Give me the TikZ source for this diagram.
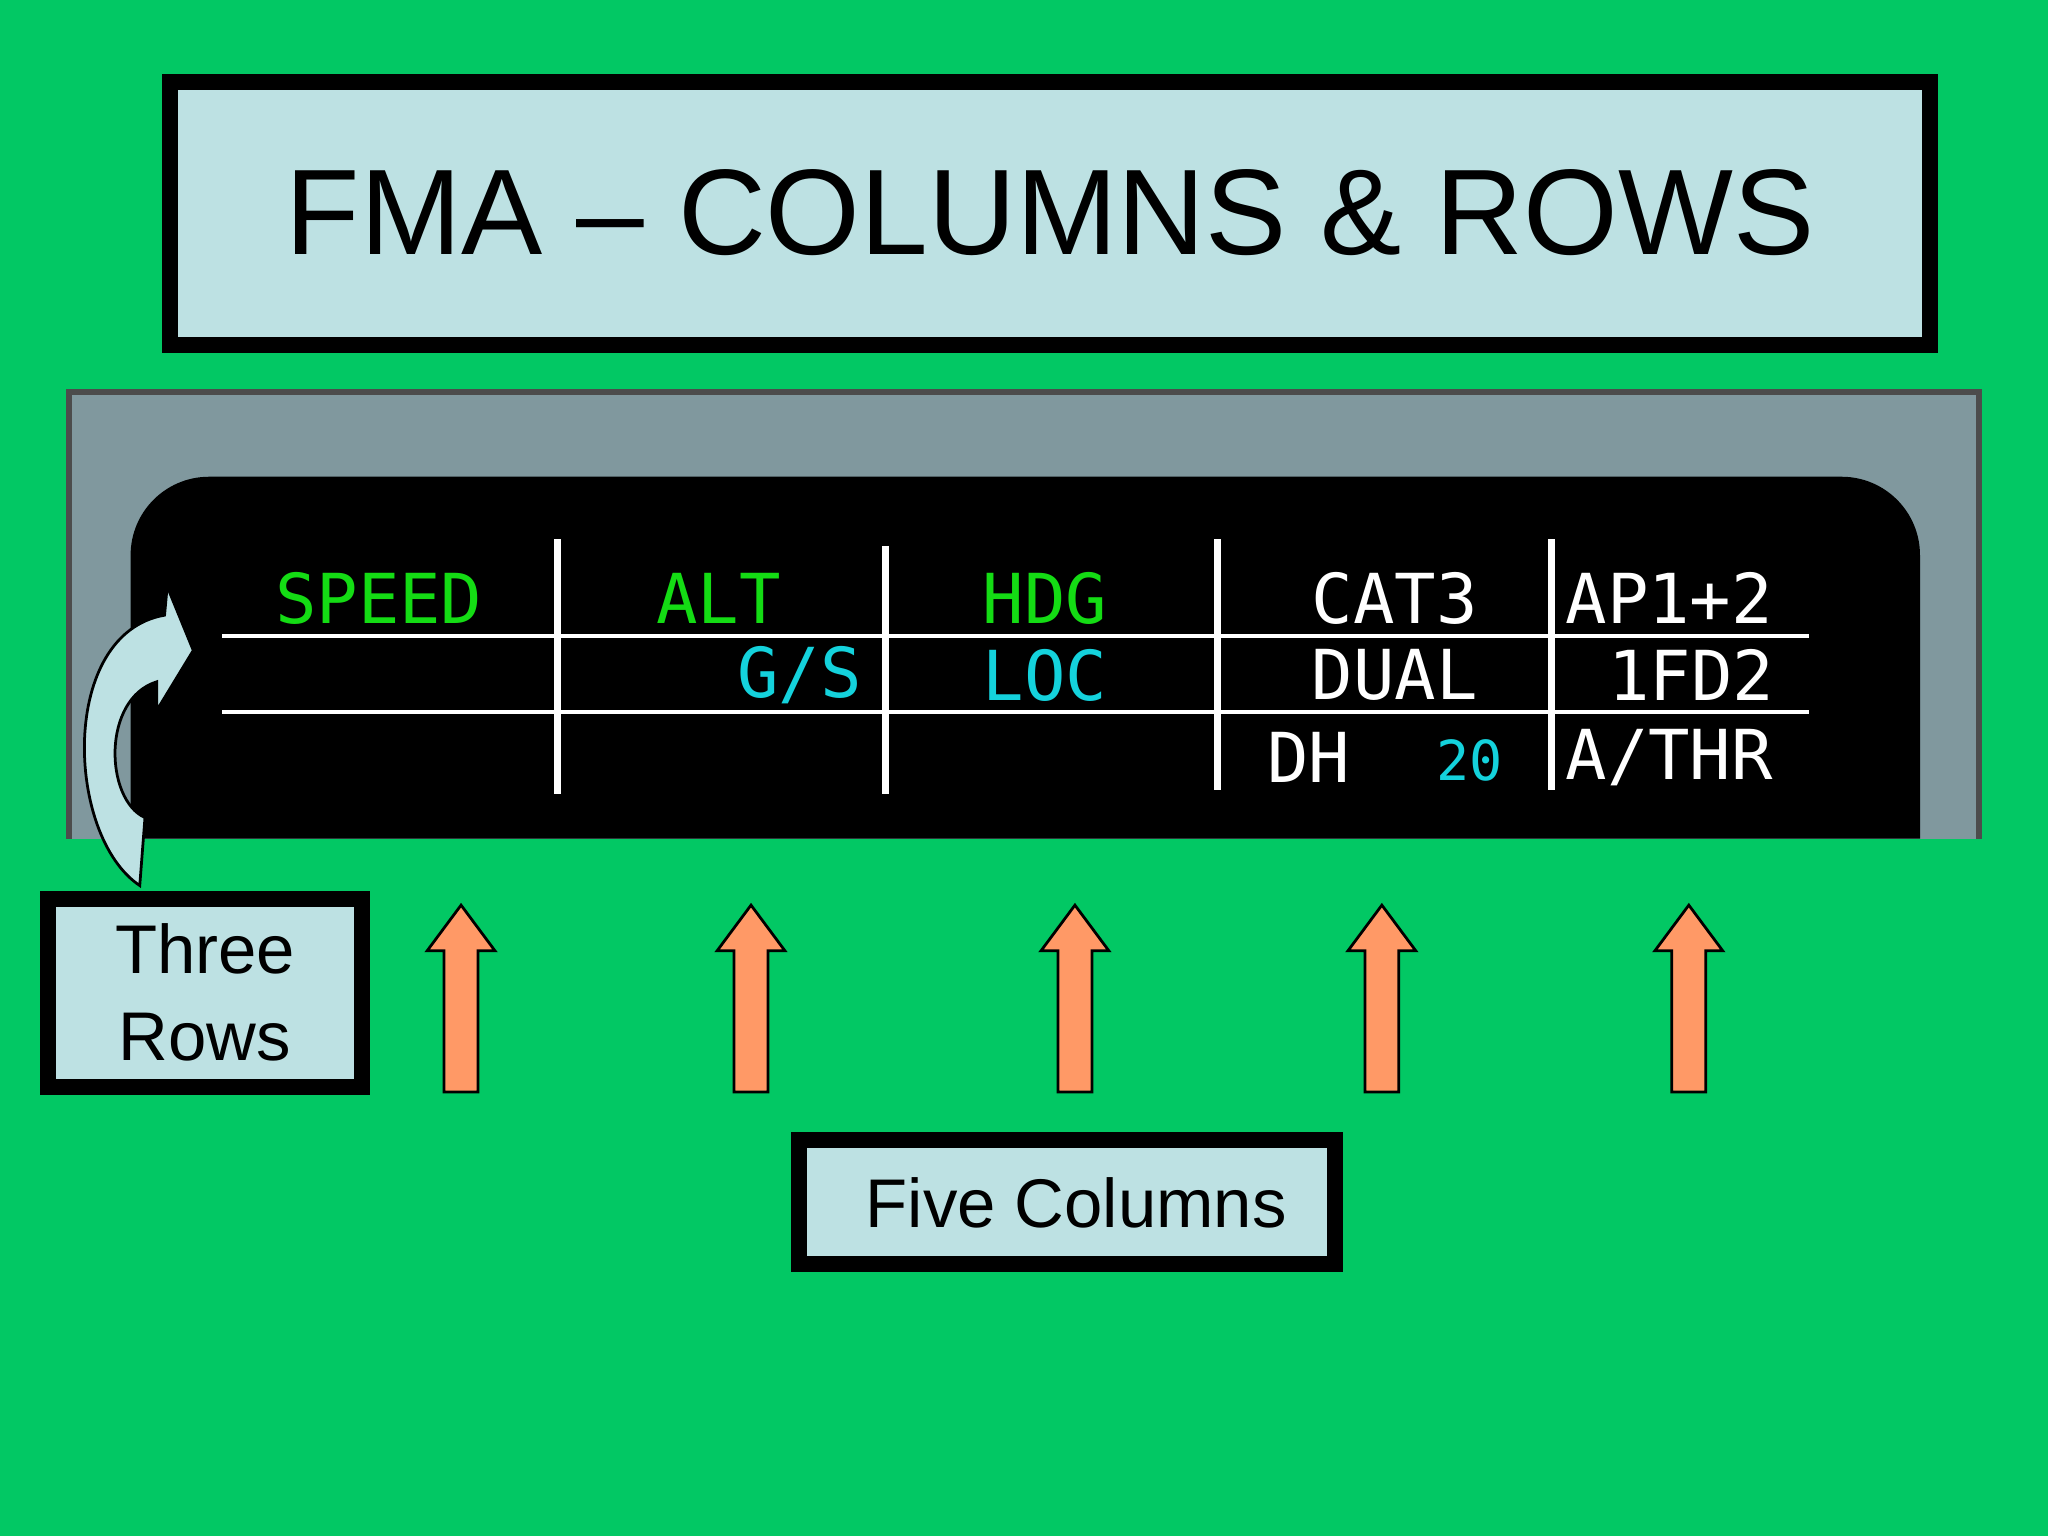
\documentclass[tikz,border=0pt]{standalone}
\usepackage{fontspec}
\setmainfont{Liberation Sans}
\newfontfamily\monofont{DejaVu Sans Mono}
\definecolor{bg}{RGB}{2,200,100}
\definecolor{lb}{RGB}{189,225,227}
\definecolor{panel}{RGB}{128,152,158}
\definecolor{fgreen}{RGB}{20,220,20}
\definecolor{fcyan}{RGB}{20,210,220}
\definecolor{orng}{RGB}{255,153,102}
\begin{document}
\begin{tikzpicture}[x=0.01cm,y=-0.01cm,
  lbox/.style={draw=black,line width=3.5pt,fill=lb},
  fma/.style={font=\monofont\fontsize{15}{15}\selectfont,anchor=center},
  wline/.style={draw=white,line width=0.8pt},
  vline/.style={draw=white,line width=1.6pt},
  uparrow/.style={draw=black,line width=0.6pt,fill=orng}]
\useasboundingbox[fill=bg] (0,0) rectangle (1568,1176);
% title
\draw[lbox] (130,63) rectangle (1478,264);
\node (title) at (804,163) {\fontsize{26.5}{26.5}\selectfont FMA – COLUMNS \& ROWS};
% panel
\fill[panel] (53,300) rectangle (1515,642);
\draw[black!70,line width=1.2pt] (53,642) -- (53,300) -- (1515,300) -- (1515,642);
\fill[black,rounded corners=0.6cm] (100,642) -- (100,365) -- (1470,365) [sharp corners] -- (1470,642) -- cycle;
\draw[wline] (170,487) -- (1385,487);
\draw[wline] (170,545) -- (1385,545);
\draw[vline] (427,413) -- (427,608);
\draw[vline] (678,418) -- (678,608);
\draw[vline] (932,413) -- (932,605);
\draw[vline] (1188,413) -- (1188,605);
\node[fma,text=fgreen] (speed) at (290,458) {SPEED};
\node[fma,text=fgreen] (alt) at (550,458) {ALT};
\node[fma,text=fcyan] (gs) at (612,517) {G/S};
\node[fma,text=fgreen] (hdg) at (800,458) {HDG};
\node[fma,text=fcyan] (loc) at (800,517) {LOC};
\node[fma,text=white] (cat) at (1068,458) {CAT3};
\node[fma,text=white] (dual) at (1068,517) {DUAL};
\node[fma,text=white] (dh) at (1002,580) {DH};
\node[fma,text=fcyan,font=\monofont\fontsize{12}{12}\selectfont] (twenty) at (1125,582) {20};
\node[fma,text=white] (ap) at (1278,458) {AP1+2};
\node[fma,text=white] (fd) at (1295,517) {1FD2};
\node[fma,text=white] (athr) at (1278,580) {A/THR};
% curved arrow
\draw[draw=black,line width=0.6pt,fill=lb] (107,678) .. controls (50,640) and (45,485) .. (126,471)
  -- (128,449) -- (148,498) -- (120,544) -- (120,522)
  .. controls (78,535) and (80,612) .. (111,626) -- cycle;
% three rows
\draw[lbox] (37,688) rectangle (277,832);
\node[align=center,font=\fontsize{15}{19}\selectfont] (rows) at (157,760) {Three\\Rows};
% arrows
\foreach \x/\n in {353/a1,575/a2,823/a3,1058/a4,1293/a5}{
  \draw[uparrow] (\x-13,836) -- (\x-13,728) -- (\x-26,728) -- (\x,693) -- (\x+26,728) -- (\x+13,728) -- (\x+13,836) -- cycle;
  \coordinate (\n) at (\x,693);
}
% five columns
\draw[lbox] (612,873) rectangle (1022,968);
\node[font=\fontsize{15}{15}\selectfont] (cols) at (824,921) {Five Columns};
\end{tikzpicture}
\end{document}
